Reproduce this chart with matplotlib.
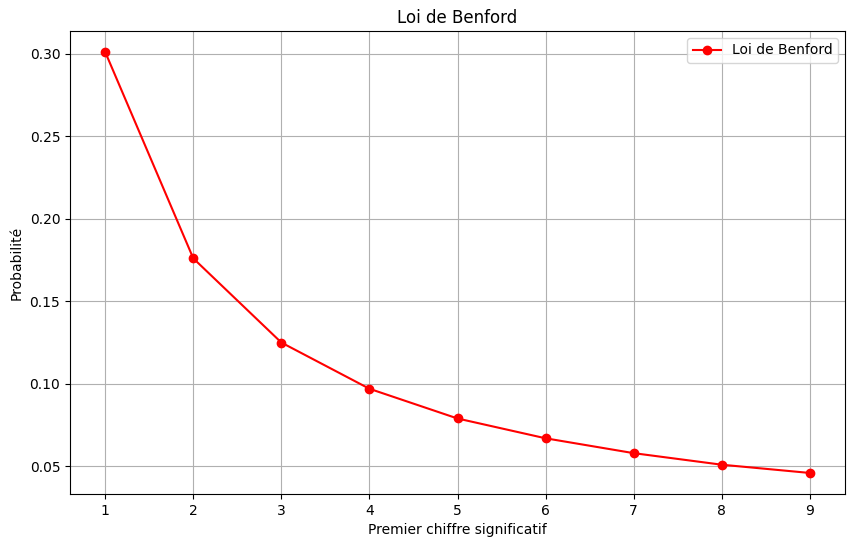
import matplotlib
matplotlib.use("Agg")
import matplotlib.pyplot as plt

digits = [1, 2, 3, 4, 5, 6, 7, 8, 9]
probabilities = [0.301, 0.176, 0.125, 0.097, 0.079, 0.067, 0.058, 0.051, 0.046]

fig = plt.figure(figsize=(8.55, 5.47), dpi=100)
ax = fig.add_axes([70/855, 1 - 494/547, (845-70)/855, (494-31)/547])
ax.plot(digits, probabilities, marker='o', color='red', label='Loi de Benford')
ax.set_title('Loi de Benford')
ax.set_xlabel('Premier chiffre significatif')
ax.set_ylabel('Probabilité')
ax.set_xticks(digits)
ax.grid(True)
ax.legend()
fig.savefig('out.png', dpi=100)
